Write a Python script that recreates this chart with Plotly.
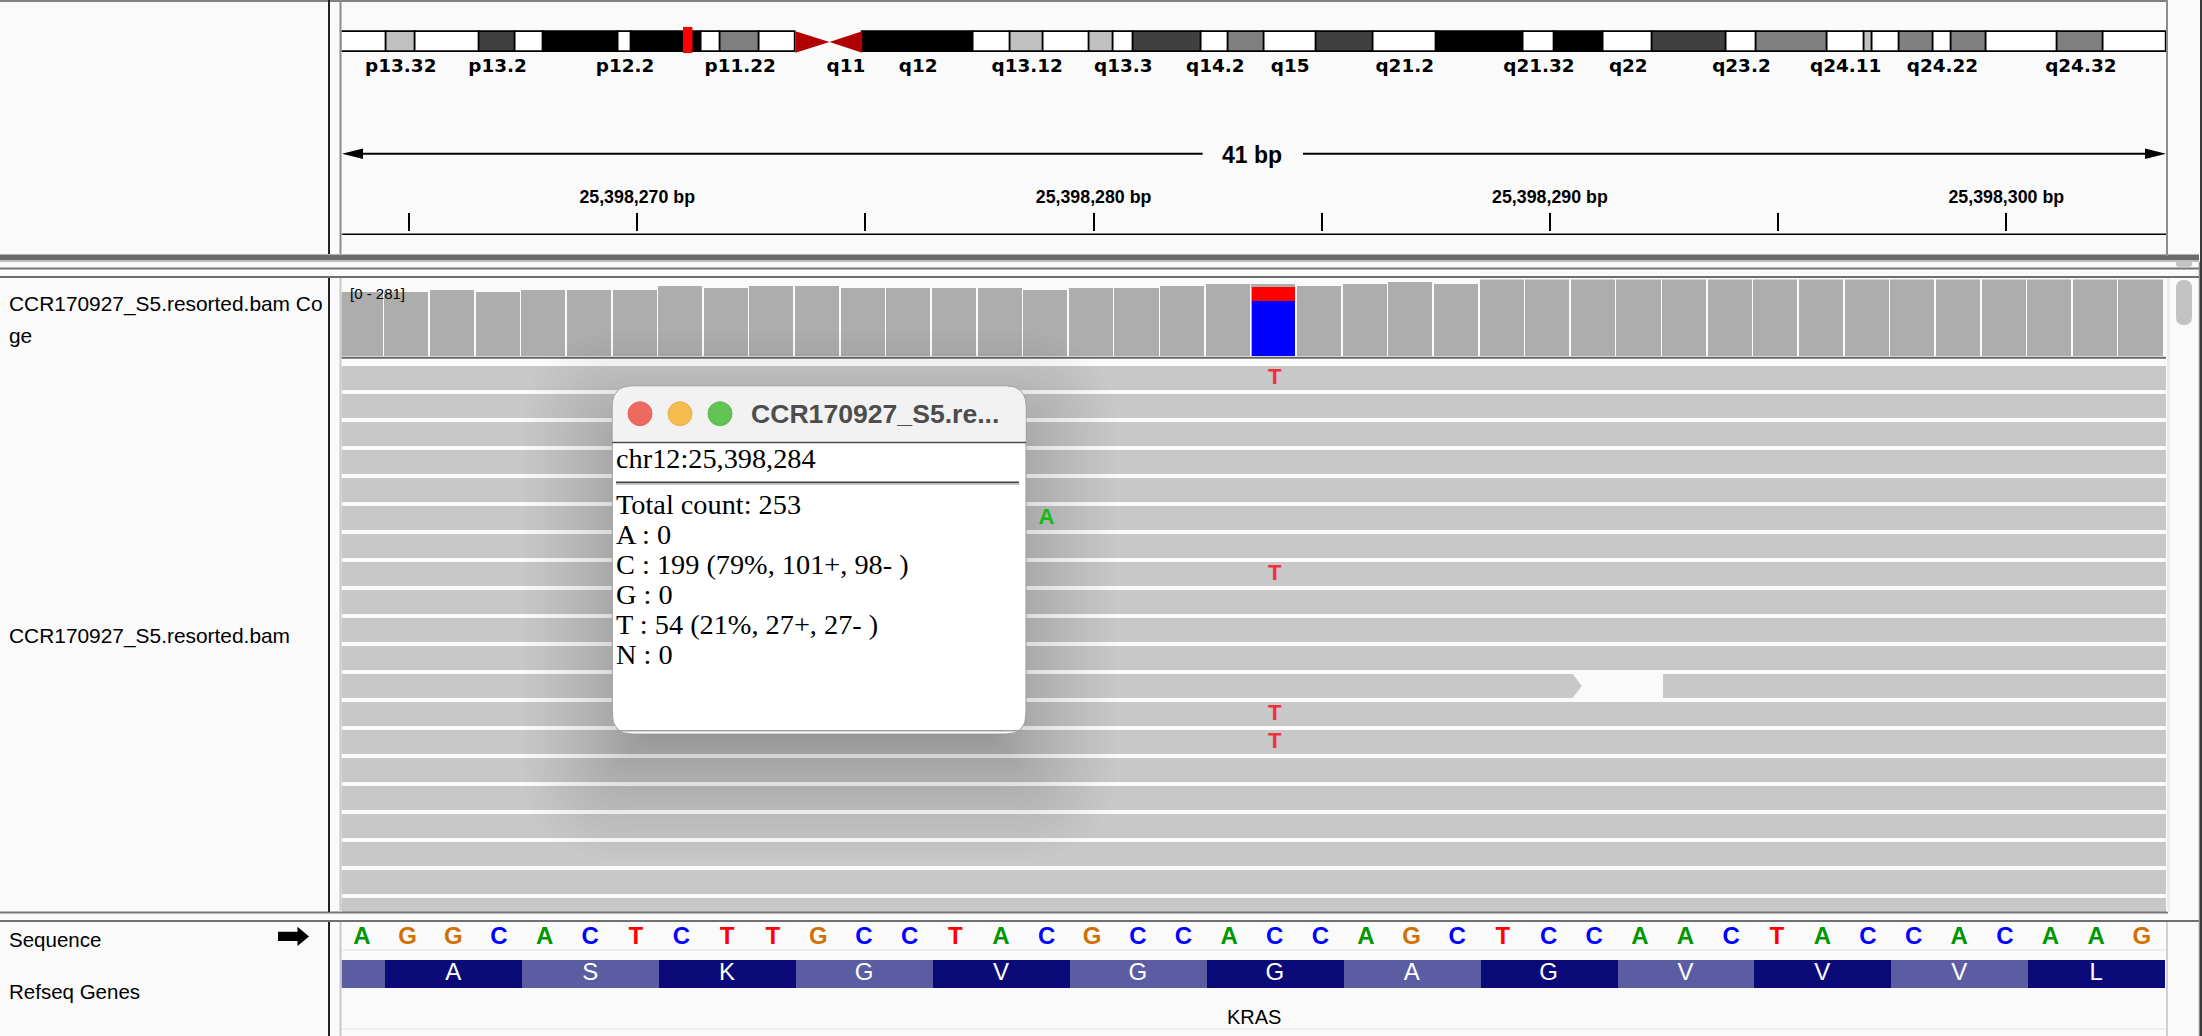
import plotly.graph_objects as go

W, H = 2202, 1036

# chr12 cytobands (Mb)
band_names = ["p13.33", "p13.32", "p13.31", "p13.2", "p13.1", "p12.3", "p12.2", "p12.1", "p11.23", "p11.22",
              "p11.21", "q12", "q13.11", "q13.12", "q13.13", "q13.2", "q13.3", "q14.1", "q14.2", "q14.3",
              "q15", "q21.1", "q21.2", "q21.31", "q21.32", "q21.33", "q22", "q23.1", "q23.2", "q23.3",
              "q24.11", "q24.12", "q24.13", "q24.21", "q24.22", "q24.23", "q24.31", "q24.32", "q24.33"]
band_starts = [0, 3.3, 5.4, 10.1, 12.8, 14.8, 20.3, 21.3, 26.4, 27.8,
               30.7, 38.2, 46.4, 49.1, 51.5, 54.9, 56.6, 58.1, 63.1, 65.1,
               67.7, 71.5, 75.7, 80.3, 86.7, 89.0, 92.6, 96.2, 101.6, 103.8,
               109.0, 111.7, 112.3, 114.3, 116.8, 118.1, 120.7, 125.9, 129.3]
band_ends = [3.3, 5.4, 10.1, 12.8, 14.8, 20.3, 21.3, 26.4, 27.8, 30.7,
             33.3, 46.4, 49.1, 51.5, 54.9, 56.6, 58.1, 63.1, 65.1, 67.7,
             71.5, 75.7, 80.3, 86.7, 89.0, 92.6, 96.2, 101.6, 103.8, 109.0,
             111.7, 112.3, 114.3, 116.8, 118.1, 120.7, 125.9, 129.3, 133.85]
band_stains = ["white", "#c0c0c0", "white", "#404040", "white", "black", "white", "black", "white", "#808080",
               "white", "black", "white", "#c0c0c0", "white", "#c0c0c0", "white", "#404040", "white", "#808080",
               "white", "#404040", "white", "black", "white", "black", "white", "#404040", "white", "#808080",
               "white", "#c0c0c0", "white", "#808080", "white", "#808080", "white", "#808080", "white"]
centromere_left = [33.3, 35.8]
centromere_right = [35.8, 38.2]
shown_bands = ["p13.32", "p13.2", "p12.2", "p11.22", "q12", "q13.12", "q13.3", "q14.2", "q15", "q21.2",
               "q21.32", "q22", "q23.2", "q24.11", "q24.22", "q24.32"]
locus_mb = 25.398284

# coverage, position 264 .. 303 (25,398,xxx)
positions = list(range(264, 304))
coverage = [234, 234, 242, 234, 242, 242, 242, 256, 249, 256,
            256, 249, 249, 249, 249, 242, 249, 249, 256, 263,
            263, 256, 263, 271, 263, 281, 281, 281, 281, 281,
            281, 281, 281, 281, 281, 281, 281, 281, 281, 281]
variant_pos = 284
variant_c = 199
variant_t = 54

ruler_ticks = [265, 270, 275, 280, 285, 290, 295, 300]
ruler_text = ["", "25,398,270 bp", "", "25,398,280 bp", "", "25,398,290 bp", "", "25,398,300 bp"]

# reads
read_rows = list(range(20))
split_row = 11
split_left_end = 290.57
split_tip = 290.77
split_right_start = 292.53
mismatch_pos = [284, 279, 284, 284, 284]
mismatch_row = [0, 5, 7, 12, 13]
mismatch_base = ["T", "A", "T", "T", "T"]

ref_seq = list("AGGCACTCTTGCCTACGCCACCAGCTCCAACTACCACAAG")
base_colors = {"A": "#009600", "C": "#0000ff", "G": "#d17105", "T": "#ff0000"}
read_base_colors = {"A": "#22d022", "T": "#f03038"}

amino_acids = ["", "A", "S", "K", "G", "V", "G", "G", "A", "G", "V", "V", "V", "L"]
codon_centers = [263, 266, 269, 272, 275, 278, 281, 284, 287, 290, 293, 296, 299, 302]
codon_colors = ["#5c5ca3", "#0a0a78", "#5c5ca3", "#0a0a78", "#5c5ca3", "#0a0a78", "#5c5ca3",
                "#0a0a78", "#5c5ca3", "#0a0a78", "#5c5ca3", "#0a0a78", "#5c5ca3", "#0a0a78"]

popup_lines = ["chr12:25,398,284", "Total count: 253", "A : 0", "C : 199 (79%, 101+, 98- )",
               "G : 0", "T : 54 (21%, 27+, 27- )", "N : 0"]
popup_y = [458, 504, 534, 564, 594, 624.5, 654]

SANS = "Liberation Sans"
BP_RANGE = [263.59, 303.57]
RULER_RANGE = [263.52, 303.50]
LETTER_RANGE = [263.55, 303.53]
PLOT_L, PLOT_R = 341.5, 2166


def px(x):
    return x / W


def py(y):
    return 1 - y / H


def dom(top, bottom):
    return [py(bottom), py(top)]


def line(x0, y0, x1, y1, color, width):
    return dict(type="line", xref="paper", yref="paper", x0=px(x0), y0=py(y0), x1=px(x1), y1=py(y1),
                line=dict(color=color, width=width), layer="above")


def rect(x0, y0, x1, y1, color):
    return dict(type="rect", xref="paper", yref="paper", x0=px(x0), y0=py(y0), x1=px(x1), y1=py(y1),
                fillcolor=color, line=dict(width=0), layer="above")


def poly(points, color):
    d = "M" + " L".join(f"{px(x):.5f},{py(y):.5f}" for x, y in points) + " Z"
    return dict(type="path", xref="paper", yref="paper", path=d, fillcolor=color, line=dict(width=0), layer="above")


def round_rect(x0, y0, x1, y1, r, fill, border=None, square_bottom=False):
    p = lambda x, y: f"{px(x):.5f},{py(y):.5f}"
    d = f"M{p(x0 + r, y0)} L{p(x1 - r, y0)} Q{p(x1, y0)} {p(x1, y0 + r)} "
    if square_bottom:
        d += f"L{p(x1, y1)} L{p(x0, y1)} "
    else:
        d += f"L{p(x1, y1 - r)} Q{p(x1, y1)} {p(x1 - r, y1)} L{p(x0 + r, y1)} Q{p(x0, y1)} {p(x0, y1 - r)} "
    d += f"L{p(x0, y0 + r)} Q{p(x0, y0)} {p(x0 + r, y0)} Z"
    return dict(type="path", xref="paper", yref="paper", path=d, fillcolor=fill, layer="above",
                line=dict(color=border, width=1) if border else dict(width=0))


fig = go.Figure()

# ideogram
fig.add_trace(go.Bar(
    y=[0] * len(band_starts), x=[e - s for s, e in zip(band_starts, band_ends)], base=band_starts,
    orientation="h", width=1.333, marker=dict(color=band_stains, line=dict(color="black", width=1.7)),
    xaxis="x3", yaxis="y5", hoverinfo="skip"))
for span, tip_first in ((centromere_left, False), (centromere_right, True)):
    if tip_first:
        xs, ys = [span[0], span[1], span[1], span[0]], [0, 0.72, -0.72, 0]
    else:
        xs, ys = [span[0], span[1], span[0], span[0]], [0.72, 0, -0.72, 0.72]
    fig.add_trace(go.Scatter(x=xs, y=ys, mode="lines", fill="toself", fillcolor="#b00000",
                             line=dict(width=0), xaxis="x3", yaxis="y5", hoverinfo="skip"))
fig.add_trace(go.Scatter(x=[locus_mb, locus_mb], y=[-1, 1], mode="lines", line=dict(color="#ff0000", width=9.5),
                         xaxis="x3", yaxis="y5", cliponaxis=False, hoverinfo="skip"))

# ruler
fig.add_trace(go.Scatter(x=RULER_RANGE, y=[0, 0], mode="lines", line=dict(color="black", width=1.6),
                         xaxis="x2", yaxis="y6", hoverinfo="skip"))

# coverage
fig.add_trace(go.Bar(x=positions, y=coverage, width=0.965, marker=dict(color="#adadad", line=dict(width=0)),
                     hoverinfo="skip"))
fig.add_trace(go.Bar(x=[variant_pos], y=[variant_c], width=0.93, marker=dict(color="#0000ff", line=dict(width=0)),
                     hoverinfo="skip"))
fig.add_trace(go.Bar(x=[variant_pos], y=[variant_t], base=[variant_c], width=0.93,
                     marker=dict(color="#ff0000", line=dict(width=0)), hoverinfo="skip"))

# reads
read_y = [r for r in read_rows if r != split_row] + [split_row, split_row]
read_start = [BP_RANGE[0] - 1] * (len(read_rows) - 1) + [BP_RANGE[0] - 1, split_right_start]
read_end = [BP_RANGE[1] + 1] * (len(read_rows) - 1) + [split_left_end, BP_RANGE[1] + 1]
fig.add_trace(go.Bar(y=read_y, x=[e - s for s, e in zip(read_start, read_end)], base=read_start,
                     orientation="h", width=24 / 28, marker=dict(color="#c8c8c8", line=dict(width=0)),
                     yaxis="y2", hoverinfo="skip"))
fig.add_trace(go.Scatter(x=[split_left_end, split_tip, split_left_end, split_left_end],
                         y=[split_row - 12 / 28, split_row, split_row + 12 / 28, split_row - 12 / 28],
                         mode="lines", fill="toself", fillcolor="#c8c8c8", line=dict(width=0),
                         yaxis="y2", hoverinfo="skip"))
# letters sit on their own axis, they are a few px right of the bars in IGV
fig.add_trace(go.Scatter(x=mismatch_pos, y=mismatch_row, mode="text", text=mismatch_base,
                         textfont=dict(family=SANS, size=22, weight="bold",
                                       color=[read_base_colors[b] for b in mismatch_base]),
                         xaxis="x4", yaxis="y2", cliponaxis=False, hoverinfo="skip"))

# sequence
fig.add_trace(go.Scatter(x=positions, y=[0.5] * len(positions), mode="text", text=ref_seq,
                         textfont=dict(family=SANS, size=24, weight="bold",
                                       color=[base_colors[b] for b in ref_seq]),
                         xaxis="x4", yaxis="y3", cliponaxis=False, hoverinfo="skip"))

# translation
fig.add_trace(go.Bar(x=codon_centers, y=[1] * len(codon_centers), width=3, marker=dict(color=codon_colors, line=dict(width=0)),
                     xaxis="x4", yaxis="y4", hoverinfo="skip"))
fig.add_trace(go.Scatter(x=codon_centers, y=[0.5] * len(codon_centers), mode="text", text=amino_acids,
                         textfont=dict(family=SANS, size=24, color="white"),
                         xaxis="x4", yaxis="y4", hoverinfo="skip"))

shapes = [
    # panel lines
    line(0, 1, 2168, 1, "#808080", 2),
    rect(0, 254.5, 2199, 260, "#6b6b6b"),
    rect(0, 260, 2199, 262, "#bdbdbd"),
    line(0, 268.5, 2199, 268.5, "#757575", 2),
    line(0, 277, 2199, 277, "#6e6e6e", 2),
    line(341.5, 357.8, 2166, 357.8, "#666666", 2),
    line(0, 912.5, 2168, 912.5, "#757575", 2),
    line(0, 921, 2199, 921, "#707070", 2),
    line(342, 950, 2166, 950, "#eeeeee", 2),
    line(342, 1029, 2166, 1029, "#eeeeee", 2),
    line(329, 0, 329, 254, "#222222", 2),
    line(329, 278, 329, 912, "#222222", 2),
    line(329, 922, 329, 1036, "#222222", 2),
    line(340.5, 0, 340.5, 254, "#8c8c8c", 2),
    line(340.5, 278, 340.5, 912, "#c8c8c8", 2),
    line(340.5, 922, 340.5, 1036, "#c8c8c8", 2),
    line(2167, 0, 2167, 256, "#8c8c8c", 2),
    rect(2167, 278, 2170, 912, "#ececec"),
    line(2167, 922, 2167, 1036, "#d0d0d0", 2),
    line(2199.5, 262, 2199.5, 1036, "#8a8a8a", 1.5),
    rect(2200, 0, 2202, 1036, "#3a3a3a"),
    # scrollbars
    round_rect(2176, 261, 2192, 266.7, 2.8, "#c2c2c2"),
    round_rect(2176, 280, 2192, 325, 8, "#c2c2c2"),
    # span arrow
    line(355, 153.7, 1202.6, 153.7, "black", 2),
    line(1303, 153.7, 2153, 153.7, "black", 2),
    poly([(342, 153.7), (363, 148.5), (363, 159)], "black"),
    poly([(2166, 153.7), (2145, 148.5), (2145, 159)], "black"),
    # sequence arrow icon
    poly([(278, 931.7), (297.5, 931.7), (297.5, 926.7), (309, 936.5), (297.5, 946), (297.5, 941), (278, 941)], "black"),
]

# popup shadow, many faint layers packed closer near the window
SHADOW_LAYERS = 36
for i in range(SHADOW_LAYERS):
    d = -55 + 145 * (i / (SHADOW_LAYERS - 1)) ** 1.7
    shapes.append(round_rect(612 - d, 386 + 36 - d, 1026 + d, 734 + 36 + d, max(24 + d * 0.9, 12),
                             "rgba(0,0,0,0.0078)"))

# popup window
shapes += [
    round_rect(612.3, 386, 1026, 734, 20, "white", border="#9a9a9a"),
    round_rect(612.8, 386.5, 1025.5, 441.7, 20, "#f2f2f2", square_bottom=True),
    line(612.3, 442.5, 1026, 442.5, "#4a4a4a", 1.6),
    line(616, 482.4, 1019, 482.4, "#444444", 1.8),
    line(616, 484, 1019, 484, "#b4b4b4", 1.4),
    line(615, 730.7, 1023, 730.7, "#a0a0a0", 1.5),
]
for cx, fill, edge in ((640, "#ee6a5f", "#d9584e"), (680, "#f5bd4f", "#dfa83f"), (720, "#61c454", "#52ad46")):
    shapes.append(dict(type="circle", xref="paper", yref="paper", layer="above",
                       x0=px(cx - 12), x1=px(cx + 12), y0=py(425.7), y1=py(401.7),
                       fillcolor=fill, line=dict(color=edge, width=0.8)))


def label(text, x, y, size=20, family=SANS, color="black", anchor="left", weight="normal"):
    return dict(text=text, xref="paper", yref="paper", x=px(x), y=py(y), xanchor=anchor, yanchor="middle",
                showarrow=False, font=dict(family=family, size=size, color=color, weight=weight))


annotations = [
    label("CCR170927_S5.resorted.bam Co", 6.5, 304, size=20.9),
    label("ge", 6.5, 335, size=20.9),
    label("CCR170927_S5.resorted.bam", 6.5, 636, size=20.9),
    label("Sequence", 6.5, 939, size=20.5),
    label("Refseq Genes", 6.5, 991, size=20.5),
    label("41 bp", 1252, 155, size=23, anchor="center", weight="bold"),
    label("[0 - 281]", 347.5, 293, size=15),
    dict(text="KRAS", xref="x", yref="paper", x=sum(BP_RANGE) / 2, y=py(1017), xanchor="center", yanchor="middle",
         showarrow=False, font=dict(family=SANS, size=20, color="black")),
    label("CCR170927_S5.re...", 749, 413.5, size=26.6, color="#4d4d4d", weight="bold"),
]
annotations += [label(t, 613.5, y, size=28.3, family="Liberation Serif") for t, y in zip(popup_lines, popup_y)]

hidden = dict(visible=False, showgrid=False, zeroline=False, fixedrange=True)
x_domain = [px(PLOT_L), px(PLOT_R)]

fig.update_layout(
    width=W, height=H, autosize=False,
    margin=dict(l=0, r=0, t=0, b=0),
    paper_bgcolor="#fafafa", plot_bgcolor="rgba(0,0,0,0)",
    showlegend=False, barmode="overlay", bargap=0,
    shapes=shapes, annotations=annotations,
    xaxis=dict(domain=x_domain, range=BP_RANGE, **hidden),
    # ruler axis sits just over the ruler line
    xaxis2=dict(domain=x_domain, range=RULER_RANGE, anchor="free", position=py(230.7), side="top",
                showgrid=False, zeroline=False, showline=False, ticks="outside", ticklen=17.4, tickwidth=1.6,
                tickcolor="black", tickmode="array", tickvals=ruler_ticks, ticktext=ruler_text, ticklabelstandoff=3,
                tickangle=0, tickfont=dict(family=SANS, size=17.8, color="black", weight="bold")),
    # ideogram axis, band names as tick labels
    xaxis3=dict(domain=x_domain, range=[0, 133.85], anchor="y5", side="bottom",
                showgrid=False, zeroline=False, showline=False, ticks="", tickmode="array",
                tickvals=[(band_starts[band_names.index(n)] + band_ends[band_names.index(n)]) / 2 for n in shown_bands] + [37],
                ticktext=shown_bands + ["q11"], tickangle=0,
                tickfont=dict(family="DejaVu Sans", size=18.4, color="black", weight="bold")),
    xaxis4=dict(domain=x_domain, range=LETTER_RANGE, anchor="y3", **hidden),
    yaxis=dict(domain=dom(279.4, 356), range=[0, 281], **hidden),
    yaxis2=dict(domain=dom(366, 912), range=[19.07, -0.4286], **hidden),
    yaxis3=dict(domain=dom(925, 950), range=[0, 1], anchor="x4", **hidden),
    yaxis4=dict(domain=dom(960, 988), range=[0, 1], anchor="x4", **hidden),
    yaxis5=dict(domain=dom(27, 53), range=[-0.733, 1], anchor="x3", **hidden),
    yaxis6=dict(domain=dom(232, 236.6), range=[-1, 1], anchor="x2", **hidden),
)

fig.write_html("out.html", config=dict(displayModeBar=False),
               post_script="document.body.style.margin='0';")
